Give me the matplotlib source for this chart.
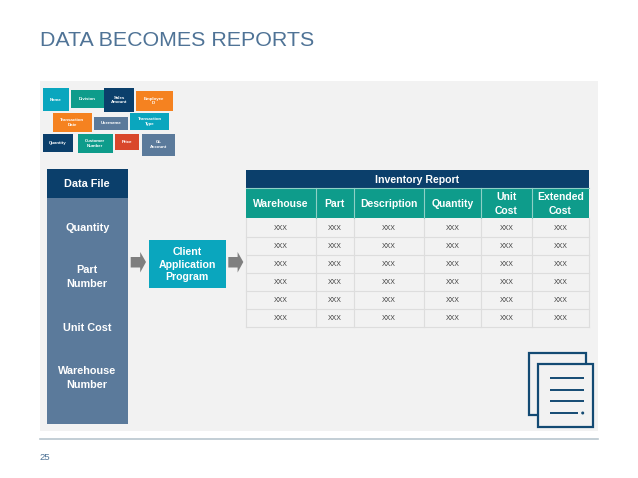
import matplotlib
matplotlib.use("Agg")
import matplotlib.pyplot as plt
from matplotlib.patches import Rectangle, Polygon, Circle

plt.rcParams['font.family'] = ['Liberation Sans', 'DejaVu Sans']

# ---- content ----
title_text = "DATA BECOMES REPORTS"
page_number = "25"
tag_labels = ["Name", "Division", "Sales\nAmount", "Employee\nID",
              "Transaction\nDate", "Username", "Transaction\nType",
              "Quantity", "Customer\nNumber", "Price", "GL\nAccount"]
file_header = "Data File"
file_fields = ["Quantity", "Part\nNumber", "Unit Cost", "Warehouse\nNumber"]
program_label = "Client\nApplication\nProgram"
report_title = "Inventory Report"
report_columns = ["Warehouse", "Part", "Description", "Quantity", "Unit\nCost", "Extended\nCost"]
report_rows = [["XXX"] * 6 for _ in range(6)]

# ---- colours ----
NAVY = "#0B3F6B"; TEAL = "#0AA6BE"; GREEN = "#0E9C8B"; ORANGE = "#F58220"
SLATE = "#5B7A9B"; RED = "#D9472B"; PANEL = "#F2F2F2"; GREY = "#7F7F7F"
TITLE = "#4F7396"; RULE = "#B9C6CE"; ICON = "#134A73"; CELL = "#DDDDDD"

# ---- layout (pixels) ----
tag_boxes = [(42.7, 88.3, 69.3, 110.7, TEAL), (70.7, 90, 104, 108.3, GREEN),
             (104, 88.3, 134, 111.7, NAVY), (135.7, 91, 172.7, 111, ORANGE),
             (52.7, 113.3, 91.7, 131.7, ORANGE), (93.7, 116.7, 128.3, 130, SLATE),
             (130.3, 113.3, 169.3, 130, TEAL), (42.7, 134.3, 73.3, 152.3, NAVY),
             (78, 134.3, 112.7, 152.7, GREEN), (115, 133.7, 139.3, 150, RED),
             (142, 133.7, 175.3, 156, SLATE)]
field_y = [227.5, 277, 328, 378]
col_edges = [245.7, 315.7, 353.7, 423.7, 481.3, 531.7, 589]
row_edges = [218.3, 236.7, 254.7, 272.7, 290.7, 309, 327.3]

fig = plt.figure(figsize=(6.38, 4.78), dpi=100, facecolor="white")
ax = fig.add_axes([0, 0, 1, 1])
ax.set_xlim(0, 638); ax.set_ylim(478, 0); ax.axis("off")


def box(x0, y0, x1, y1, color, ec="none", lw=0, z=2):
    ax.add_patch(Rectangle((x0, y0), x1 - x0, y1 - y0, fc=color, ec=ec, lw=lw, zorder=z))


def label(x, y, s, size, color="white", weight="bold", ha="center", ls=1.15, z=5):
    ax.text(x, y, s, fontsize=size, color=color, fontweight=weight, ha=ha, va="center",
            linespacing=ls, zorder=z)


ax.text(40, 40, title_text, fontsize=15.4, color=TITLE, ha="left", va="center")
box(40, 81, 598, 431, PANEL, z=1)
ax.plot([40, 598], [438.5, 438.5], color=RULE, lw=1.2)
ax.text(39.5, 458, page_number, fontsize=6.8, color=TITLE, ha="left", va="center")

for text, (x0, y0, x1, y1, c) in zip(tag_labels, tag_boxes):
    box(x0, y0, x1, y1, c)
    label((x0 + x1) / 2, (y0 + y1) / 2, text, 3.2, ls=1.3)

# data file column
box(46.7, 169.3, 127.7, 198.3, NAVY)
box(46.7, 198.3, 127.7, 424, SLATE)
label(87.2, 184, file_header, 7.8)
for text, y in zip(file_fields, field_y):
    label(87.2, y, text, 7.8, ls=1.4)

# program box and arrows
box(149, 240.3, 225.7, 288.3, TEAL)
label(187.3, 264.5, program_label, 7.6, ls=1.35)
for ax0, ax1 in [(130.7, 146), (228.3, 243.3)]:
    mid = ax0 + (ax1 - ax0) * 0.62
    ax.add_patch(Polygon([(ax0, 257), (mid, 257), (mid, 252), (ax1, 262), (mid, 272.5),
                          (mid, 267.5), (ax0, 267.5)], closed=True, fc=GREY, ec="none", zorder=3))

# report table
box(col_edges[0], 169.7, col_edges[-1], 188.3, NAVY)
label((col_edges[0] + col_edges[-1]) / 2, 180, report_title, 7.6)
box(col_edges[0], 188.3, col_edges[-1], row_edges[0], GREEN)
for i, text in enumerate(report_columns):
    cx = (col_edges[i] + col_edges[i + 1]) / 2
    label(cx, 204, text, 7.5, ls=1.4)
for e in col_edges[1:-1]:
    ax.plot([e, e], [188.3, row_edges[0]], color="#8FD0C6", lw=0.8, zorder=4)
ax.plot([col_edges[0], col_edges[-1]], [188.3, 188.3], color="#8FD0C6", lw=0.8, zorder=4)
for e in col_edges:
    ax.plot([e, e], [row_edges[0], row_edges[-1]], color=CELL, lw=0.8, zorder=3)
for e in row_edges[1:]:
    ax.plot([col_edges[0], col_edges[-1]], [e, e], color=CELL, lw=0.8, zorder=3)
for r, row in enumerate(report_rows):
    cy = (row_edges[r] + row_edges[r + 1]) / 2
    for c, val in enumerate(row):
        cx = (col_edges[c] + col_edges[c + 1]) / 2
        label(cx, cy + 0.5, val, 5.0, color="#404040", weight="normal")

# document icon
box(529.3, 353.3, 585.7, 415, "none", ec=ICON, lw=1.6, z=3)
box(538.3, 364, 593.3, 426.7, PANEL, ec=ICON, lw=1.6, z=4)
for y, xe in [(377.7, 584.3), (389.7, 584.3), (401.3, 584.3), (413, 578.3)]:
    ax.plot([550, xe], [y, y], color=ICON, lw=1.4, zorder=5, solid_capstyle="butt")
ax.add_patch(Circle((582.7, 413), 1.5, fc=ICON, ec="none", zorder=5))

fig.savefig("out.png", dpi=100)
